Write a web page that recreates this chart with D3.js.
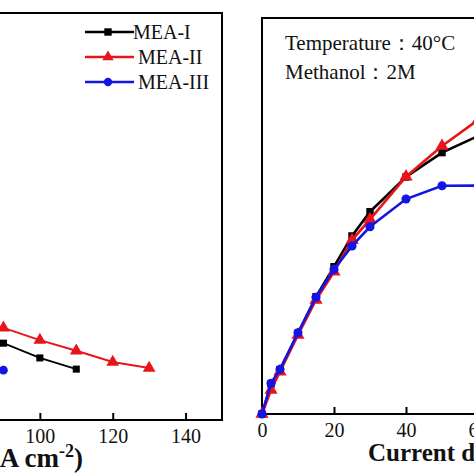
<!DOCTYPE html>
<html>
<head>
<meta charset="utf-8">
<script src="https://cdn.jsdelivr.net/npm/d3@7/dist/d3.min.js"></script>
<style>
  body { margin: 0; background: #fff; overflow: hidden; }
  text { font-family: "Liberation Serif", "Times New Roman", serif; fill: #111; }
</style>
</head>
<body>
<svg width="474" height="474"></svg>
<script>
// left panel: polarization tails (only the right end is visible)
var leftX = [80, 90, 100, 110, 120, 130];
var leftMEA1 = [0.17, 0.151, 0.122, 0.100, null, null];
var leftMEA2 = [0.20, 0.181, 0.157, 0.136, 0.114, 0.102];
var leftMEA3 = [0.13, 0.098, null, null, null, null];
var leftTicks = [80, 100, 120, 140];

// right panel: power density curves
var rightX = [0, 2.5, 5, 10, 15, 20, 25, 30, 40, 50, 60];
var rightMEA1 = [0, 1.9, 2.8, 5.1, 7.4, 9.3, 11.24, 12.77, 14.96, 16.5, 17.55];
var rightMEA2 = [0, 1.52, 2.67, 4.99, 7.2, 8.98, 10.98, 12.29, 14.98, 16.92, 18.56];
var rightMEA3 = [0, 1.94, 2.82, 5.13, 7.37, 9.13, 10.61, 11.82, 13.57, 14.41, 14.42];
var rightTicks = [0, 20, 40, 60];

var names = ["MEA-I", "MEA-II", "MEA-III"];
var colors = ["#000000", "#e8141a", "#1414e6"];
var shapes = [d3.symbolSquare, d3.symbolTriangle, d3.symbolCircle];

var svg = d3.select("svg");

function panel(opt) {
  var g = svg.append("g");
  var x = d3.scaleLinear().domain(opt.xDomain).range(opt.xRange);
  var y = d3.scaleLinear().domain(opt.yDomain).range(opt.yRange);

  // frame
  g.append("rect")
    .attr("x", opt.xRange[0]).attr("y", opt.yRange[1])
    .attr("width", opt.xRange[1] - opt.xRange[0])
    .attr("height", opt.yRange[0] - opt.yRange[1])
    .attr("fill", "none").attr("stroke", "#000").attr("stroke-width", 2);

  // x axis, ticks inside
  var ax = g.append("g")
    .attr("transform", "translate(0," + opt.yRange[0] + ")")
    .call(d3.axisBottom(x).tickValues(opt.ticks).tickSizeInner(-7).tickSizeOuter(0).tickPadding(9));
  ax.select(".domain").remove();
  ax.selectAll("line").attr("stroke", "#000").attr("stroke-width", 2);
  ax.selectAll("text").style("font-family", "Liberation Serif").style("font-size", "20px").attr("fill", "#111");

  var line = d3.line()
    .defined(function(d) { return d[1] != null; })
    .x(function(d) { return x(d[0]); })
    .y(function(d) { return y(d[1]); });

  opt.series.forEach(function(s, i) {
    var pts = opt.xs.map(function(v, j) { return [v, s[j]]; });
    g.append("path").datum(pts)
      .attr("d", line)
      .attr("fill", "none")
      .attr("stroke", colors[i])
      .attr("stroke-width", opt.lw[i]);
    g.selectAll(".m" + i)
      .data(pts.filter(function(d) { return d[1] != null; }))
      .enter().append("path")
      .attr("transform", function(d) { return "translate(" + x(d[0]) + "," + y(d[1]) + ")"; })
      .attr("d", d3.symbol().type(shapes[i]).size(opt.msize[i]))
      .attr("fill", colors[i]);
  });
  return g;
}

panel({
  xDomain: [80, 150], xRange: [-33, 222],
  yDomain: [0, 0.8], yRange: [420, 13],
  ticks: leftTicks, xs: leftX,
  series: [leftMEA1, leftMEA2, leftMEA3],
  lw: [1.8, 2, 2], msize: [50, 70, 60]
});

panel({
  xDomain: [0, 70], xRange: [262, 514],
  yDomain: [0, 25], yRange: [414, 18],
  ticks: rightTicks, xs: rightX,
  series: [rightMEA1, rightMEA2, rightMEA3],
  lw: [2.6, 2.6, 2.6], msize: [55, 75, 65]
});

// legend
var leg = svg.append("g");
names.forEach(function(n, i) {
  var yy = 32 + i * 25;
  leg.append("line").attr("x1", 85).attr("x2", 134).attr("y1", yy).attr("y2", yy)
    .attr("stroke", colors[i]).attr("stroke-width", 2.5);
  leg.append("path").attr("transform", "translate(108," + yy + ")")
    .attr("d", d3.symbol().type(shapes[i]).size(55)).attr("fill", colors[i]);
  leg.append("text").attr("x", i === 0 ? 133 : 138).attr("y", yy + 7)
    .style("font-size", "20px").text(n);
});

// conditions
svg.append("text").attr("x", 285).attr("y", 50).style("font-size", "21px").text("Temperature：40°C");
svg.append("text").attr("x", 285).attr("y", 79).style("font-size", "21px").text("Methanol：2M");

// axis titles
function title(xp, yp, anchor, fs) {
  var t = svg.append("text").attr("x", xp).attr("y", yp)
    .attr("text-anchor", anchor)
    .style("font-size", fs + "px").style("font-weight", "bold");
  t.append("tspan").text("Current density (mA cm");
  t.append("tspan").attr("dy", -10).style("font-size", "18px").text("-2");
  t.append("tspan").attr("dy", 10).text(")");
}
title(83, 467, "end", 27);
title(368, 461, "start", 25);
</script>
</body>
</html>
